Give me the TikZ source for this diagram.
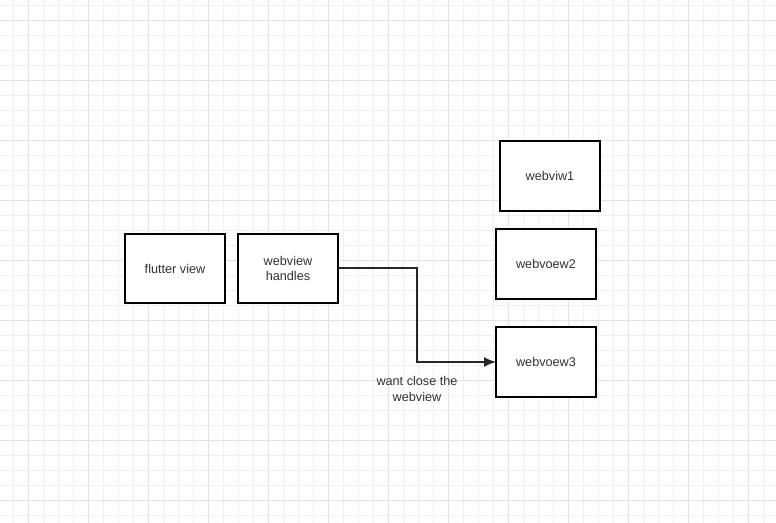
\documentclass[tikz,border=0pt]{standalone}
\usepackage{fontspec}
\setmainfont{Liberation Sans}
\usetikzlibrary{arrows.meta}
\begin{document}
\begin{tikzpicture}[x=0.75pt,y=-0.75pt,
  box/.style={draw=black,line width=1.1pt,minimum width=0pt,inner sep=0pt,fill=white},
  txt/.style={font=\fontsize{9.5}{11.5}\selectfont,text=black!80,align=center},
  conn/.style={draw=black!85,line width=1.1pt,-{Latex[length=9pt,width=7.5pt]}}]
\useasboundingbox (0,0) rectangle (776,523);
\fill[white] (0,0) rectangle (776,523);
\foreach \x in {13,28,...,776} \draw[black!6,line width=0.75pt] (\x,0)--(\x,523);
\foreach \y in {6,21,...,523} \draw[black!6,line width=0.75pt] (0,\y)--(776,\y);
\foreach \x in {28,88,...,776} \draw[black!11,line width=0.75pt] (\x,0)--(\x,523);
\foreach \y in {21,81,...,523} \draw[black!11,line width=0.75pt] (0,\y)--(776,\y);
\draw[box] (125,234) rectangle (225,303);
\node[txt] (fv) at (175,268.5) {flutter view};
\draw[box] (238,234) rectangle (338,303);
\node[txt] (wh) at (288,268.5) {webview\\handles};
\coordinate (whr) at (338,268);
\draw[box] (500,141) rectangle (600,211);
\node[txt] (w1) at (550,176) {webviw1};
\draw[box] (496,229) rectangle (596,299);
\node[txt] (w2) at (546,264) {webvoew2};
\draw[box] (496,327) rectangle (596,397);
\node[txt] (w3) at (546,362) {webvoew3};
\coordinate (w3l) at (496,362);
\draw[conn] (whr) -- (417,268) -- (417,362) -- (w3l);
\node[txt] (lbl) at (417,389) {want close the\\webview};
\end{tikzpicture}
\end{document}
